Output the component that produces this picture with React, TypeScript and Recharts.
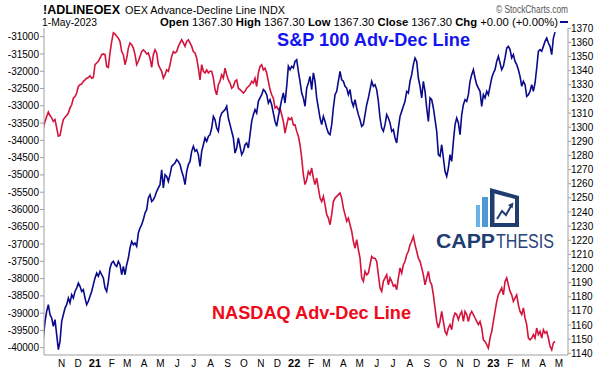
import React from 'react';
import { LineChart, Line, XAxis, YAxis } from 'recharts';

// x positions are calendar days counted from this date, one sample every ~3 days
const START_UTC = Date.UTC(2020, 9, 15);
const DAY_MS = 86400000;
const SAMPLE_DAYS = 3.053;

const monthLabels = [
  'N', 'D', '21', 'F', 'M', 'A', 'M', 'J', 'J', 'A', 'S', 'O',
  'N', 'D', '22', 'F', 'M', 'A', 'M', 'J', 'J', 'A', 'S', 'O',
  'N', 'D', '23', 'F', 'M', 'A', 'M',
];

const leftTicks = [
  -40000, -39500, -39000, -38500, -38000, -37500, -37000, -36500, -36000, -35500,
  -35000, -34500, -34000, -33500, -33000, -32500, -32000, -31500, -31000,
];

const rightTicks = [
  1140, 1150, 1160, 1170, 1180, 1190, 1200, 1210, 1220, 1230, 1240, 1250,
  1260, 1270, 1280, 1290, 1300, 1310, 1320, 1330, 1340, 1350, 1360, 1370,
];

// S&P 100 (OEX) advance-decline line, right axis
const oexAd = [
  1150.8, 1162.6, 1169.7, 1174.4, 1167.3, 1165.0, 1159.1, 1163.8, 1153.2, 1142.6,
  1148.5, 1162.6, 1167.3, 1172.0, 1174.4, 1179.1, 1175.6, 1181.5, 1179.1, 1183.8,
  1186.2, 1189.7, 1187.4, 1183.8, 1185.0, 1179.1, 1174.4, 1176.8, 1180.3, 1183.8,
  1188.6, 1193.3, 1196.8, 1194.5, 1198.0, 1195.6, 1193.3, 1186.2, 1183.8, 1190.9,
  1200.4, 1203.9, 1205.1, 1202.7, 1201.5, 1205.1, 1202.7, 1195.6, 1201.5, 1195.6,
  1202.7, 1207.4, 1214.5, 1219.2, 1216.9, 1218.0, 1215.7, 1225.1, 1228.7, 1231.0,
  1234.6, 1239.3, 1241.6, 1249.9, 1252.2, 1247.5, 1248.7, 1251.1, 1254.6, 1257.0,
  1259.3, 1269.9, 1257.0, 1266.4, 1265.2, 1261.7, 1266.4, 1272.3, 1273.5, 1274.7,
  1277.0, 1275.8, 1273.5, 1268.8, 1265.2, 1259.3, 1268.8, 1273.5, 1275.8, 1282.9,
  1286.5, 1282.9, 1284.1, 1280.6, 1272.3, 1282.9, 1287.6, 1292.4, 1290.0, 1293.5,
  1294.7, 1299.4, 1307.7, 1305.3, 1299.4, 1297.1, 1306.5, 1310.0, 1311.2, 1312.4,
  1314.8, 1306.5, 1301.8, 1297.1, 1292.4, 1281.7, 1285.3, 1292.4, 1286.5, 1280.6,
  1282.9, 1287.6, 1288.8, 1285.3, 1294.7, 1304.1, 1308.9, 1312.4, 1310.0, 1318.3,
  1320.7, 1323.0, 1326.6, 1325.4, 1323.0, 1317.1, 1319.5, 1315.9, 1310.0, 1304.1,
  1300.6, 1307.7, 1313.6, 1319.5, 1324.2, 1317.1, 1328.9, 1343.1, 1340.7, 1343.1,
  1341.9, 1346.6, 1347.8, 1339.5, 1332.5, 1324.2, 1320.7, 1314.8,
  1327.7, 1331.3, 1336.0, 1326.6, 1338.4, 1332.5, 1320.7, 1313.6, 1306.5, 1301.8,
  1307.7, 1304.1, 1299.4, 1295.9, 1294.7, 1301.8, 1313.6, 1323.0, 1325.4, 1332.5,
  1339.5, 1333.6, 1332.5, 1328.9, 1327.7, 1323.0, 1326.6, 1318.3, 1314.8, 1319.5,
  1313.6, 1308.9, 1305.3, 1300.6, 1301.8, 1308.9, 1315.9, 1320.7, 1326.6, 1332.5,
  1328.9, 1330.1, 1326.6, 1318.3, 1306.5, 1299.4, 1297.1, 1301.8, 1308.9, 1306.5,
  1303.0, 1297.1, 1298.3, 1292.4, 1288.8, 1299.4, 1307.7, 1311.2, 1314.8, 1318.3,
  1325.4, 1324.2, 1332.5, 1337.2, 1344.3, 1349.0, 1346.6, 1334.8, 1328.9, 1320.7,
  1332.5, 1325.4, 1313.6, 1304.1, 1320.7, 1319.5, 1313.6, 1305.3,
  1297.1, 1280.6, 1279.4, 1287.6, 1278.2, 1268.8, 1265.2, 1271.1, 1280.6, 1275.8,
  1290.0, 1301.8, 1306.5, 1303.0, 1294.7, 1308.9, 1315.9, 1319.5, 1318.3, 1323.0,
  1332.5, 1337.2, 1340.7, 1334.8, 1330.1, 1327.7, 1325.4, 1314.8, 1323.0, 1320.7,
  1325.4, 1323.0, 1328.9, 1334.8, 1338.4, 1340.7, 1346.6, 1350.1, 1345.4, 1340.7,
  1343.1, 1349.0, 1356.0, 1357.2, 1354.9, 1349.0, 1351.3, 1346.6, 1344.3, 1340.7,
  1336.0, 1328.9, 1332.5, 1330.1, 1321.8, 1323.0, 1325.4, 1330.1, 1325.4, 1331.3,
  1341.9, 1353.7, 1354.9, 1353.7, 1357.2, 1360.8, 1363.1, 1359.6, 1357.2, 1351.3,
  1363.1, 1367.3,
];

// NASDAQ advance-decline line, left axis
const nasdaqAd = [
  -33640, -33450, -33310, -33180, -33280, -33350, -33450, -33400, -33640, -33880,
  -33860, -33600, -33400, -33330, -33280, -33210, -33060, -32970, -32780, -32730,
  -32630, -32440, -32390, -32370, -32290, -32250, -32200, -32180, -32130, -32200,
  -32180, -31810, -31760, -31710, -31620, -31520, -31500, -31520, -31860, -31890,
  -31470, -31140, -30890, -30920, -30990, -31040, -31140, -31430, -31520, -31810,
  -31620, -31330, -31180, -31230, -31330, -31520, -31810, -31710, -31570, -31430,
  -31380, -31430, -31500, -31470, -31620, -31890, -31520, -31380, -31470, -31810,
  -31910, -32000, -32200, -32100, -31960, -32000, -31810, -31570, -31430, -31470,
  -31430, -31280, -31180, -31090, -31180, -31280, -31140, -31090, -31180, -31280,
  -31430, -31470, -31620, -31910, -32250, -31810, -32000, -32050, -31960, -32050,
  -32000, -32000, -32200, -32530, -32680, -32390, -32290, -32100, -32200, -31910,
  -32100, -32250, -32340, -32490, -32440, -32290, -32250, -32490, -32530, -32580,
  -32630, -32580, -32490, -32440, -32390, -32290, -32340, -32200, -32440, -32050,
  -31860, -31810, -31960, -31910, -32050, -32290, -32530, -32680, -32780, -33060,
  -33020, -33110, -33060, -33260, -33450, -33790, -33550, -33350, -33400, -33350,
  -33550, -33550, -33740, -33880, -34130, -34510, -34990, -35280,
  -35140, -34900, -34990, -34800, -35090, -35280, -35090, -35380, -35670, -35770,
  -35620, -35860, -36150, -36250, -36440, -36150, -35770, -35670, -35620, -35570,
  -35520, -35670, -35960, -36150, -36340, -36250, -36440, -36630, -36920, -37120,
  -36870, -37160, -37410, -37980, -38080, -37790, -37890, -37840, -37600, -37360,
  -37410, -37410, -37500, -37890, -38270, -38370, -38080, -37980, -37890, -38180,
  -37980, -38080, -38220, -38180, -38320, -37980, -37690, -37840, -37600, -37500,
  -37310, -37210, -37020, -36920, -36780, -37020, -37210, -37410, -37500, -37690,
  -37890, -38180, -37980, -37790, -38080, -38180, -38470, -38850,
  -39240, -39430, -39240, -38950, -39240, -39530, -39620, -39430, -39330, -39480,
  -39140, -39000, -39040, -39190, -39040, -38950, -39240, -38950, -39040, -39240,
  -39040, -38950, -39040, -39140, -39240, -39330, -39240, -39430, -39770, -39820,
  -39910, -40010, -39720, -39530, -39240, -38950, -38660, -38470, -38370, -38270,
  -38470, -38080, -37980, -38180, -38370, -38470, -38660, -38560, -38470, -38760,
  -38950, -39040, -38850, -39140, -39330, -39720, -39770, -39720, -39620, -39720,
  -39430, -39620, -39530, -39720, -39480, -39580, -39530, -39720, -39960, -40060,
  -39860, -39820,
];

const monthTicks = monthLabels.map((_, m) => (Date.UTC(2020, 10 + m, 1) - START_UTC) / DAY_MS);

const data = oexAd.map((v, i) => ({ day: i * SAMPLE_DAYS, oex: v, nasdaq: nasdaqAd[i] }));

const FONT = '"Liberation Sans", Arial, sans-serif';
const BORDER = '#a0a0a0';
const X_DOMAIN = [1.2, 961];

function MonthTick(props: any) {
  const { x, y, payload } = props;
  const idx = monthTicks.indexOf(payload.value);
  const label = monthLabels[idx] ?? '';
  const isYear = /\d/.test(label);
  return (
    <text
      x={x + 9}
      y={y}
      dy={7}
      textAnchor="middle"
      fontFamily={FONT}
      fontSize={isYear ? 11 : 10}
      fontWeight={isYear ? 'bold' : 'normal'}
      fill="#000"
    >
      {label}
    </text>
  );
}

const quote = [
  ['Open', '1367.30'],
  ['High', '1367.30'],
  ['Low', '1367.30'],
  ['Close', '1367.30'],
  ['Chg', '+0.00 (+0.00%)'],
];

function Overlay() {
  return (
    <svg
      width={600}
      height={370}
      style={{ position: 'absolute', left: 0, top: 0, pointerEvents: 'none' }}
      fontFamily={FONT}
    >
      <text x={43} y={14} fontSize={12.5} fontWeight="bold" textLength={77} lengthAdjust="spacingAndGlyphs">!ADLINEOEX</text>
      <text x={125} y={14} fontSize={11} textLength={160} lengthAdjust="spacingAndGlyphs">OEX Advance-Decline Line INDX</text>
      <text x={496} y={13} fontSize={10.5} fill="#555" textLength={72} lengthAdjust="spacingAndGlyphs">© StockCharts.com</text>
      <text x={42} y={26} fontSize={10.5} textLength={55} lengthAdjust="spacingAndGlyphs">1-May-2023</text>
      <text x={160} y={26} fontSize={10.5} textLength={398} lengthAdjust="spacingAndGlyphs">
        {quote.map(([k, v], i) => (
          <React.Fragment key={k}>
            <tspan fontWeight="bold">{k}</tspan>
            <tspan>{' ' + v + (i < quote.length - 1 ? ' ' : '')}</tspan>
          </React.Fragment>
        ))}
      </text>
      <line x1={560} x2={568} y1={22} y2={22} stroke="#0a0a8c" strokeWidth={2} />

      <text x={277} y={46} fontSize={18} fontWeight="bold" fill="#1414f0" textLength={193} lengthAdjust="spacingAndGlyphs">
        {'S&P 100 Adv-Dec Line'}
      </text>
      <text x={212} y={319} fontSize={18} fontWeight="bold" fill="#ee0a1a" textLength={199} lengthAdjust="spacingAndGlyphs">
        NASDAQ Adv-Dec Line
      </text>

      {/* CAPP THESIS logo */}
      <rect x={476} y={205} width={4} height={22} fill="#6bb3e6" />
      <rect x={482} y={197} width={6} height={30} fill="#4f98d8" />
      <path
        d="M490 188 L519 196 L519 227 L490 227 Z M494.5 193.5 L515 199 L515 223 L494.5 223 Z"
        fill="#213d70"
        fillRule="evenodd"
      />
      <polyline points="497,219 502,211 506,215 511,206" stroke="#213d70" strokeWidth={2} fill="none" />
      <path d="M508 205 L513.5 202.5 L512.5 208.5 Z" fill="#213d70" />
      <text x={436} y={248} fontSize={21} fontWeight="bold" fill="#213d70" textLength={59} lengthAdjust="spacingAndGlyphs">CAPP</text>
      <text x={496} y={248} fontSize={21} fill="#2a4677" textLength={58} lengthAdjust="spacingAndGlyphs">THESIS</text>
    </svg>
  );
}

export default function App() {
  return (
    <div style={{ position: 'absolute', left: 0, top: 0, width: 600, height: 370, background: '#fff' }}>
      <LineChart width={600} height={370} data={data} margin={{ top: 28, right: 0, bottom: 0, left: 0 }}>
        <XAxis
          dataKey="day"
          type="number"
          domain={X_DOMAIN}
          allowDataOverflow
          ticks={monthTicks}
          interval={0}
          height={15}
          tick={<MonthTick />}
          tickSize={4}
          tickMargin={1}
          tickLine={false}
          axisLine={{ stroke: BORDER }}
        />
        <XAxis
          xAxisId="top"
          orientation="top"
          dataKey="day"
          type="number"
          domain={X_DOMAIN}
          allowDataOverflow
          height={0}
          tick={false}
          tickLine={false}
          axisLine={{ stroke: BORDER }}
        />
        <YAxis
          yAxisId="left"
          orientation="left"
          width={44}
          domain={[-40211, -30748]}
          allowDataOverflow
          ticks={leftTicks}
          interval={0}
          tickSize={4}
          tickMargin={1}
          tick={{ fontSize: 10, fill: '#000', fontFamily: FONT }}
          tickLine={{ stroke: BORDER }}
          axisLine={{ stroke: BORDER }}
        />
        <YAxis
          yAxisId="right"
          orientation="right"
          width={32}
          domain={[1138.8, 1370.2]}
          allowDataOverflow
          ticks={rightTicks}
          interval={0}
          tickSize={3}
          tickMargin={0}
          tick={{ fontSize: 10, fill: '#000', fontFamily: FONT }}
          tickLine={{ stroke: BORDER }}
          axisLine={{ stroke: BORDER }}
        />
        <Line
          yAxisId="left"
          type="linear"
          dataKey="nasdaq"
          stroke="#d4143c"
          strokeWidth={1.6}
          dot={false}
          isAnimationActive={false}
        />
        <Line
          yAxisId="right"
          type="linear"
          dataKey="oex"
          stroke="#0a0a8c"
          strokeWidth={1.6}
          dot={false}
          isAnimationActive={false}
        />
      </LineChart>
      <Overlay />
    </div>
  );
}
